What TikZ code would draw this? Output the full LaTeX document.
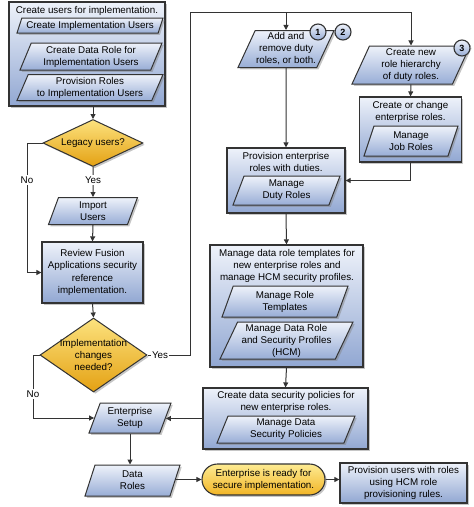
\documentclass[tikz,border=0pt]{standalone}
\usepackage{fontspec}
\setmainfont{Liberation Sans}
\usetikzlibrary{shapes.geometric,arrows.meta,shadows}
\definecolor{edge}{HTML}{333333}
\definecolor{bxtop}{HTML}{EEF2FA}
\definecolor{bxbot}{HTML}{91A7D2}
\definecolor{ptop}{HTML}{EEF2FA}
\definecolor{pbot}{HTML}{98ADD6}
\definecolor{gdtop}{HTML}{FCE27E}
\definecolor{gdbot}{HTML}{E4A113}
\definecolor{yltop}{HTML}{FDEB93}
\definecolor{ylbot}{HTML}{F2B526}
\begin{document}
\begin{tikzpicture}[x=1pt,y=-1pt,
  fnt/.style={font=\fontsize{9.8}{12}\selectfont},
  shad/.style={drop shadow={opacity=0.45,shadow xshift=1.8pt,shadow yshift=-1.8pt}},
  box/.style={rectangle,draw=edge,line width=1.2pt,top color=bxtop,bottom color=bxbot,shad,inner sep=0pt},
  para/.style={trapezium,trapezium left angle=62,trapezium right angle=118,trapezium stretches body,draw=edge,line width=1pt,top color=ptop,bottom color=pbot,inner sep=0pt,align=center,fnt,shad},
  dia/.style={diamond,draw=edge,line width=1pt,top color=gdtop,bottom color=gdbot,inner sep=0pt,shad},
  txt/.style={align=center,fnt,inner sep=0pt},
  lbl/.style={fill=white,fnt,inner sep=1.2pt},
  numc/.style={circle,draw=edge,line width=1.1pt,top color=ptop,bottom color=pbot,minimum size=16pt,inner sep=0pt,font=\bfseries\fontsize{9}{9}\selectfont},
  arr/.style={draw=edge,line width=1pt,-{Triangle[length=5pt,width=5pt]}},
]
\useasboundingbox (0,0) rectangle (474,507);

% ---------- left column ----------
\node[box,minimum width=156pt,minimum height=104pt] (c1) at (87,54) {};
\node[txt] (c1t) at (87,10.5) {Create users for implementation.};
\node[para,minimum width=146pt,minimum height=15pt] (p11) at (90,25.5) {Create Implementation Users};
\node[para,minimum width=142pt,minimum height=27pt] (p12) at (91,56.5) {Create Data Role for\\Implementation Users};
\node[para,minimum width=146pt,minimum height=26pt] (p13) at (90,87.5) {Provision Roles\\to Implementation Users};

\node[dia,minimum width=100pt,minimum height=47pt] (d1) at (93,143) {};
\node[txt] (d1t) at (93,143) {Legacy users?};
\node[para,minimum width=89pt,minimum height=27pt] (imp) at (93,211) {Import\\Users};
\node[box,minimum width=101pt,minimum height=61pt] (rev) at (92.5,272.5) {};
\node[txt,font=\fontsize{9.8}{12.6}\selectfont] (revt) at (92.5,272.5) {Review Fusion\\Applications security\\reference\\implementation.};

\node[dia,minimum width=107pt,minimum height=74pt] (d2) at (93.5,355) {};
\node[txt] (d2t) at (93.5,355) {Implementation\\changes\\needed?};

\node[para,minimum width=82pt,minimum height=30pt] (es) at (130,418) {Enterprise\\Setup};
\node[para,minimum width=95pt,minimum height=31pt] (dr) at (132.5,480.5) {Data\\Roles};
\node[rectangle,rounded corners=15.5pt,draw=edge,line width=1.1pt,top color=yltop,bottom color=ylbot,shad,minimum width=123pt,minimum height=31pt,txt] (rdy) at (263.5,479.5) {Enterprise is ready for\\secure implementation.};
\node[box,minimum width=127pt,minimum height=40pt,align=center,fnt] (pu) at (403.5,483) {Provision users with roles\\using HCM role\\provisioning rules.};

% ---------- right column ----------
\node[para,minimum width=96pt,minimum height=37pt] (adr) at (286,49) {Add and\\remove duty\\roles, or both.};
\node[numc] (n1) at (318,32) {1};
\node[numc] (n2) at (343,32) {2};
\node[para,minimum width=118pt,minimum height=38pt] (cnr) at (411,65) {Create new\\role hierarchy\\of duty roles.};
\node[numc] (n3) at (462,48) {3};

\node[box,minimum width=102pt,minimum height=65pt] (cce) at (410.5,129.5) {};
\node[txt] (ccet) at (410.5,112) {Create or change\\enterprise roles.};
\node[para,minimum width=94pt,minimum height=30pt] (mjr) at (411,141) {Manage\\Job Roles};

\node[box,minimum width=118pt,minimum height=65pt] (per) at (286,180.5) {};
\node[txt] (pert) at (286,162) {Provision enterprise\\roles with duties.};
\node[para,minimum width=107pt,minimum height=29pt] (mdr) at (286.5,190.5) {Manage\\Duty Roles};

\node[box,minimum width=153pt,minimum height=122pt] (mdt) at (286.5,306) {};
\node[txt] (mdtt) at (287,266) {Manage data role templates for\\new enterprise roles and\\manage HCM security profiles.};
\node[para,minimum width=126pt,minimum height=31pt] (mrt) at (285,301.5) {Manage Role\\Templates};
\node[para,minimum width=133pt,minimum height=37pt] (mdp) at (286.5,340.5) {Manage Data Role\\and Security Profiles\\(HCM)};

\node[box,minimum width=165pt,minimum height=61pt] (cds) at (285.5,418.5) {};
\node[txt] (cdst) at (286,401.5) {Create data security policies for\\new enterprise roles.};
\node[para,minimum width=138pt,minimum height=27pt] (mdsp) at (286,429.5) {Manage Data\\Security Policies};

% ---------- connectors ----------
\coordinate (nA) at (27,0);
\coordinate (nB) at (33,0);
\coordinate (yA) at (190,12);
\draw[arr] (c1.south -| d1.north) -- (d1.north);
\draw[arr] (d1.south) -- (imp.north);
\draw[arr] (d1.west) -| (nA |- rev.west) -- (rev.west);
\draw[arr] (imp.south) -- (rev.north);
\draw[arr] (rev.south) -- (d2.north);
\draw[arr] (d2.east) -| (yA) -| (cnr.north);
\draw[arr] (yA -| adr.north) -- (adr.north);
\draw[arr] (adr.south) -- (per.north);
\draw[arr] (cnr.south) -- (cce.north);
\draw[arr] (cce.south) |- (per.east);
\draw[arr] (per.south) -- (mdt.north);
\draw[arr] (mdt.south) -- (cds.north);
\draw[arr] (cds.west) -- (cds.west -| es.east);
\draw[arr] (d2.west) -| (nB |- es.west) -- (es.west);
\draw[arr] (es.south) -- (es.south |- dr.north);
\draw[arr] (rdy.west -| dr.east) -- (rdy.west);
\draw[arr] (rdy.east) -- (pu.west |- rdy.east);

% ---------- branch labels ----------
\node[lbl] (yes1) at (93,180) {Yes};
\node[lbl] (no1) at (27,180) {No};
\node[lbl] (yes2) at (160,355) {Yes};
\node[lbl] (no2) at (33,394) {No};
\end{tikzpicture}
\end{document}
